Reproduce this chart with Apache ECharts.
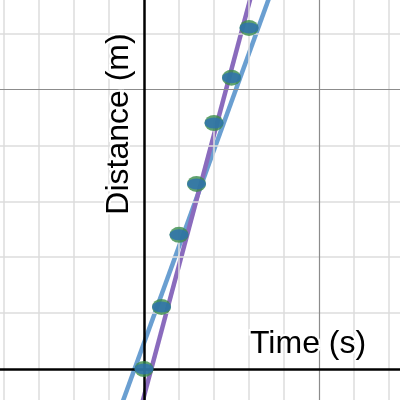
<!DOCTYPE html>
<html>
<head>
<meta charset="utf-8">
<script src="https://cdn.jsdelivr.net/npm/echarts@6/dist/echarts.min.js"></script>
<style>html,body{margin:0;padding:0;background:#fff}#c{width:400px;height:400px}</style>
</head>
<body>
<div id="c"></div>
<script>
// 数据点 (时间 s, 距离 m)
const times = [0, 0.5, 1, 1.5, 2, 2.5, 3]
const distances = [0, 1.11, 2.4, 3.31, 4.4, 5.21, 6.1]
// 两条拟合直线: [斜率, 截距]
const blueFit = [1.727, 0.465]
const purpleFit = [2.34, -0.487]
// 网格
const xTicks = [-4, -3, -2, -1, 1, 2, 3, 4, 6, 7]
const yTicks = [1, 2, 3, 4, 6]
const xMajor = [5]
const yMajor = [5]
const xMin = -4.114, xMax = 7.314, yMin = -0.555, yMax = 6.6

const fitLine = (f) => [[xMin, f[0] * xMin + f[1]], [xMax, f[0] * xMax + f[1]]]
const vLines = (arr, style) => arr.map(v => ({ xAxis: v, lineStyle: style }))
const hLines = (arr, style) => arr.map(v => ({ yAxis: v, lineStyle: style }))
const minor = { color: '#dcdcdc', width: 1.5, type: 'solid' }
const major = { color: '#8c8c8c', width: 1.2, type: 'solid' }
const axis = { color: '#000', width: 2.5, type: 'solid' }

const chart = echarts.init(document.getElementById('c'))
chart.setOption({
  animation: false,
  grid: { left: 0, right: 0, top: 0, bottom: 0 },
  xAxis: { type: 'value', min: xMin, max: xMax, show: false },
  yAxis: { type: 'value', min: yMin, max: yMax, show: false },
  graphic: [
    {
      type: 'text', x: 119, y: 124, rotation: Math.PI / 2, z: 10,
      style: { text: 'Distance (m)', font: '32px "Liberation Sans", Arial', fill: '#000', stroke: '#fff', lineWidth: 4, align: 'center', verticalAlign: 'middle' }
    },
    {
      type: 'text', x: 250, y: 344, z: 10,
      style: { text: 'Time (s)', font: '32px "Liberation Sans", Arial', fill: '#000', stroke: '#fff', lineWidth: 4, align: 'left', verticalAlign: 'middle' }
    }
  ],
  series: [
    {
      type: 'line', data: [], silent: true,
      markLine: {
        silent: true, symbol: 'none', label: { show: false }, animation: false,
        data: [
          ...vLines(xTicks, minor), ...hLines(yTicks, minor),
          ...vLines(xMajor, major), ...hLines(yMajor, major),
          ...vLines([0], axis), ...hLines([0], axis)
        ]
      }
    },
    {
      type: 'line', data: fitLine(blueFit), showSymbol: false, z: 3,
      lineStyle: { color: '#6a9fd1', width: 4.5 }
    },
    {
      type: 'line', data: fitLine(purpleFit), showSymbol: false, z: 4,
      lineStyle: { color: '#8a6bbd', width: 4.5 }
    },
    {
      type: 'scatter', data: times.map((t, i) => [t, distances[i]]), z: 5,
      symbol: 'circle', symbolSize: [19, 16], itemStyle: { color: '#3a8c4a' }
    },
    {
      type: 'scatter', data: times.map((t, i) => [t, distances[i]]), z: 6,
      symbol: 'circle', symbolSize: [19, 11], itemStyle: { color: '#2d70b3', opacity: 0.8 }
    }
  ]
})
</script>
</body>
</html>
